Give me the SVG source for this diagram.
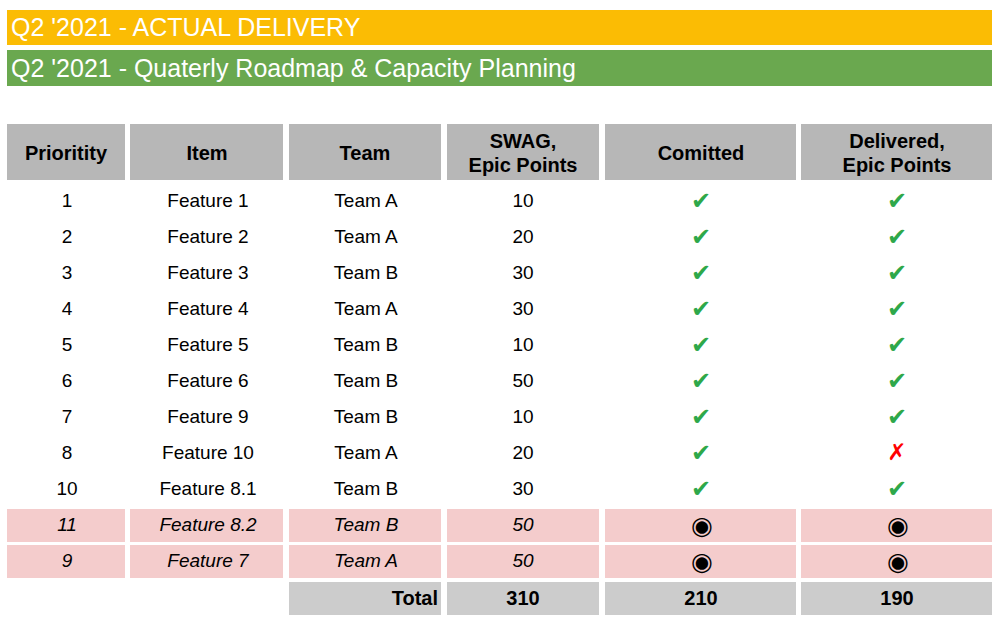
<svg xmlns="http://www.w3.org/2000/svg" width="1000" height="623" viewBox="0 0 1000 623">
<style>
text{font-family:"Liberation Sans",Arial,sans-serif;font-size:19px;fill:#000;text-anchor:middle}
.ban{fill:#fff;font-size:25px;text-anchor:start}
.h{font-weight:bold;font-size:20px}
.hc{fill:#b7b7b7}
.pk{fill:#f4cccc}
.pt{font-style:italic}
.tot{fill:#cccccc}
.ck{fill:#2ea84a;font-family:"DejaVu Sans",sans-serif;font-size:24px}
.x{fill:#f00;font-family:"DejaVu Sans",sans-serif;font-size:23px;font-weight:bold}
.dot{font-family:"DejaVu Sans",sans-serif;font-size:25px}
</style>
<rect width="1000" height="623" fill="#fff"/>
<g id="banner1"><rect x="7" y="10" width="985" height="35" fill="#fbbc04"/><text class="ban" x="11" y="36">Q2 '2021 - ACTUAL DELIVERY</text></g>
<g id="banner2"><rect x="7" y="50" width="985" height="36" fill="#6aa84f"/><text class="ban" x="11" y="77">Q2 '2021 - Quaterly Roadmap &amp; Capacity Planning</text></g>
<g id="header">
<rect class="hc" x="7" y="124" width="118" height="56"/><text class="h" x="66" y="160">Prioritity</text>
<rect class="hc" x="130" y="124" width="153" height="56"/><text class="h" x="207" y="160">Item</text>
<rect class="hc" x="289" y="124" width="152" height="56"/><text class="h" x="365" y="160">Team</text>
<rect class="hc" x="447" y="124" width="152" height="56"/><text class="h" x="523" y="148">SWAG,</text><text class="h" x="523" y="172">Epic Points</text>
<rect class="hc" x="605" y="124" width="191" height="56"/><text class="h" x="701" y="160">Comitted</text>
<rect class="hc" x="801" y="124" width="191" height="56"/><text class="h" x="897" y="148">Delivered,</text><text class="h" x="897" y="172">Epic Points</text>
</g>
<g id="rows">
<text x="67" y="207">1</text><text x="208" y="207">Feature 1</text><text x="366" y="207">Team A</text><text x="523" y="207">10</text><text class="ck" x="701" y="209">✔</text><text class="ck" x="897" y="209">✔</text>
<text x="67" y="243">2</text><text x="208" y="243">Feature 2</text><text x="366" y="243">Team A</text><text x="523" y="243">20</text><text class="ck" x="701" y="245">✔</text><text class="ck" x="897" y="245">✔</text>
<text x="67" y="279">3</text><text x="208" y="279">Feature 3</text><text x="366" y="279">Team B</text><text x="523" y="279">30</text><text class="ck" x="701" y="281">✔</text><text class="ck" x="897" y="281">✔</text>
<text x="67" y="315">4</text><text x="208" y="315">Feature 4</text><text x="366" y="315">Team A</text><text x="523" y="315">30</text><text class="ck" x="701" y="317">✔</text><text class="ck" x="897" y="317">✔</text>
<text x="67" y="351">5</text><text x="208" y="351">Feature 5</text><text x="366" y="351">Team B</text><text x="523" y="351">10</text><text class="ck" x="701" y="353">✔</text><text class="ck" x="897" y="353">✔</text>
<text x="67" y="387">6</text><text x="208" y="387">Feature 6</text><text x="366" y="387">Team B</text><text x="523" y="387">50</text><text class="ck" x="701" y="389">✔</text><text class="ck" x="897" y="389">✔</text>
<text x="67" y="423">7</text><text x="208" y="423">Feature 9</text><text x="366" y="423">Team B</text><text x="523" y="423">10</text><text class="ck" x="701" y="425">✔</text><text class="ck" x="897" y="425">✔</text>
<text x="67" y="459">8</text><text x="208" y="459">Feature 10</text><text x="366" y="459">Team A</text><text x="523" y="459">20</text><text class="ck" x="701" y="461">✔</text><text class="x" x="897" y="460">✗</text>
<text x="67" y="495">10</text><text x="208" y="495">Feature 8.1</text><text x="366" y="495">Team B</text><text x="523" y="495">30</text><text class="ck" x="701" y="497">✔</text><text class="ck" x="897" y="497">✔</text>
</g>
<g id="pink1">
<rect class="pk" x="7" y="509" width="118" height="33"/><rect class="pk" x="130" y="509" width="153" height="33"/><rect class="pk" x="289" y="509" width="152" height="33"/><rect class="pk" x="447" y="509" width="152" height="33"/><rect class="pk" x="605" y="509" width="191" height="33"/><rect class="pk" x="801" y="509" width="191" height="33"/>
<text class="pt" x="67" y="531">11</text><text class="pt" x="208" y="531">Feature 8.2</text><text class="pt" x="366" y="531">Team B</text><text class="pt" x="523" y="531">50</text><text class="dot" x="702" y="534">◉</text><text class="dot" x="898" y="534">◉</text>
</g>
<g id="pink2">
<rect class="pk" x="7" y="545" width="118" height="33"/><rect class="pk" x="130" y="545" width="153" height="33"/><rect class="pk" x="289" y="545" width="152" height="33"/><rect class="pk" x="447" y="545" width="152" height="33"/><rect class="pk" x="605" y="545" width="191" height="33"/><rect class="pk" x="801" y="545" width="191" height="33"/>
<text class="pt" x="67" y="567">9</text><text class="pt" x="208" y="567">Feature 7</text><text class="pt" x="366" y="567">Team A</text><text class="pt" x="523" y="567">50</text><text class="dot" x="702" y="570">◉</text><text class="dot" x="898" y="570">◉</text>
</g>
<g id="total">
<rect class="tot" x="289" y="582" width="152" height="33"/><rect class="tot" x="447" y="582" width="152" height="33"/><rect class="tot" x="605" y="582" width="191" height="33"/><rect class="tot" x="801" y="582" width="191" height="33"/>
<text class="h" x="438" y="605" style="text-anchor:end">Total</text><text class="h" x="523" y="605">310</text><text class="h" x="701" y="605">210</text><text class="h" x="897" y="605">190</text>
</g>
<g id="connectors"/>
</svg>
